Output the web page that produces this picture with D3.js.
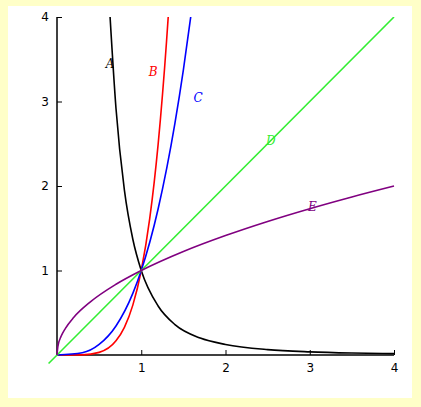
<!DOCTYPE html>
<html><head><meta charset="utf-8">
<script src="https://cdn.jsdelivr.net/npm/d3@7"></script>
<style>body{margin:0;background:#ffffc8}</style>
</head><body>
<svg id="c" width="421" height="407"></svg>
<script>
// curve samples
var curveA = [[0.63,4],[0.7,2.92],[0.8,1.95],[0.9,1.37],[1,1],[1.2,0.58],[1.4,0.36],[1.7,0.2],[2,0.125],[2.5,0.064],[3,0.037],[3.5,0.023],[4,0.016]];
var curveB = [[0,0],[0.3,0.002],[0.5,0.031],[0.7,0.168],[0.8,0.328],[0.9,0.59],[1,1],[1.1,1.61],[1.2,2.49],[1.3,3.71],[1.32,4]];
var curveC = [[0,0],[0.3,0.027],[0.5,0.125],[0.7,0.343],[0.9,0.729],[1,1],[1.2,1.728],[1.4,2.744],[1.5,3.375],[1.587,4]];
var curveD = [[-0.1,-0.1],[4,4]];
var curveE = [[0,0],[0.01,0.1],[0.05,0.224],[0.1,0.316],[0.2,0.447],[0.4,0.632],[0.7,0.837],[1,1],[1.5,1.225],[2,1.414],[2.5,1.581],[3,1.732],[3.5,1.871],[4,2]];
var ticks = [1, 2, 3, 4];
var series = [
  {name: "A", pts: curveA, color: "#000000", lab: [0.58, 3.4]},
  {name: "B", pts: curveB, color: "#ff0000", lab: [1.09, 3.3]},
  {name: "C", pts: curveC, color: "#0000ff", lab: [1.62, 3.0]},
  {name: "D", pts: curveD, color: "#33ee33", lab: [2.48, 2.48]},
  {name: "E", pts: curveE, color: "#800080", lab: [2.98, 1.7]}
];

var svg = d3.select("#c");
svg.append("rect").attr("x", 8).attr("y", 6).attr("width", 404).attr("height", 392).attr("fill", "#fff");

var x = d3.scaleLinear().domain([0, 4]).range([57, 394]);
var y = d3.scaleLinear().domain([0, 4]).range([355, 17]);

var xAxis = svg.append("g").attr("transform", "translate(0,355)")
    .call(d3.axisBottom(x).tickValues(ticks).tickSize(5).tickFormat(d3.format("d")));
var yAxis = svg.append("g").attr("transform", "translate(57,0)")
    .call(d3.axisLeft(y).tickValues(ticks).tickSize(5).tickFormat(d3.format("d")));
[xAxis, yAxis].forEach(function (g) {
    g.select(".domain").attr("d", g === xAxis ? "M57,0H394" : "M0,17V355").attr("stroke-width", 1.5);
    g.selectAll("text").attr("font-family", "DejaVu Sans").attr("font-size", 12).attr("fill", "#000");
});
xAxis.selectAll(".tick line").attr("y2", -5);
yAxis.selectAll(".tick line").attr("x2", 5);

svg.append("clipPath").attr("id", "clip").append("rect")
    .attr("x", 40).attr("y", 17).attr("width", 360).attr("height", 360);

var line = d3.line().x(d => x(d[0])).y(d => y(d[1])).curve(d3.curveMonotoneX);
series.forEach(s => {
    svg.append("path").attr("d", line(s.pts)).attr("fill", "none")
        .attr("stroke", s.color).attr("stroke-width", 1.6).attr("clip-path", "url(#clip)");
    svg.append("text").text(s.name).attr("x", x(s.lab[0])).attr("y", y(s.lab[1]))
        .attr("font-family", "DejaVu Serif").attr("font-style", "italic").attr("font-size", 12)
        .attr("fill", s.color);
});
</script>
</body></html>
